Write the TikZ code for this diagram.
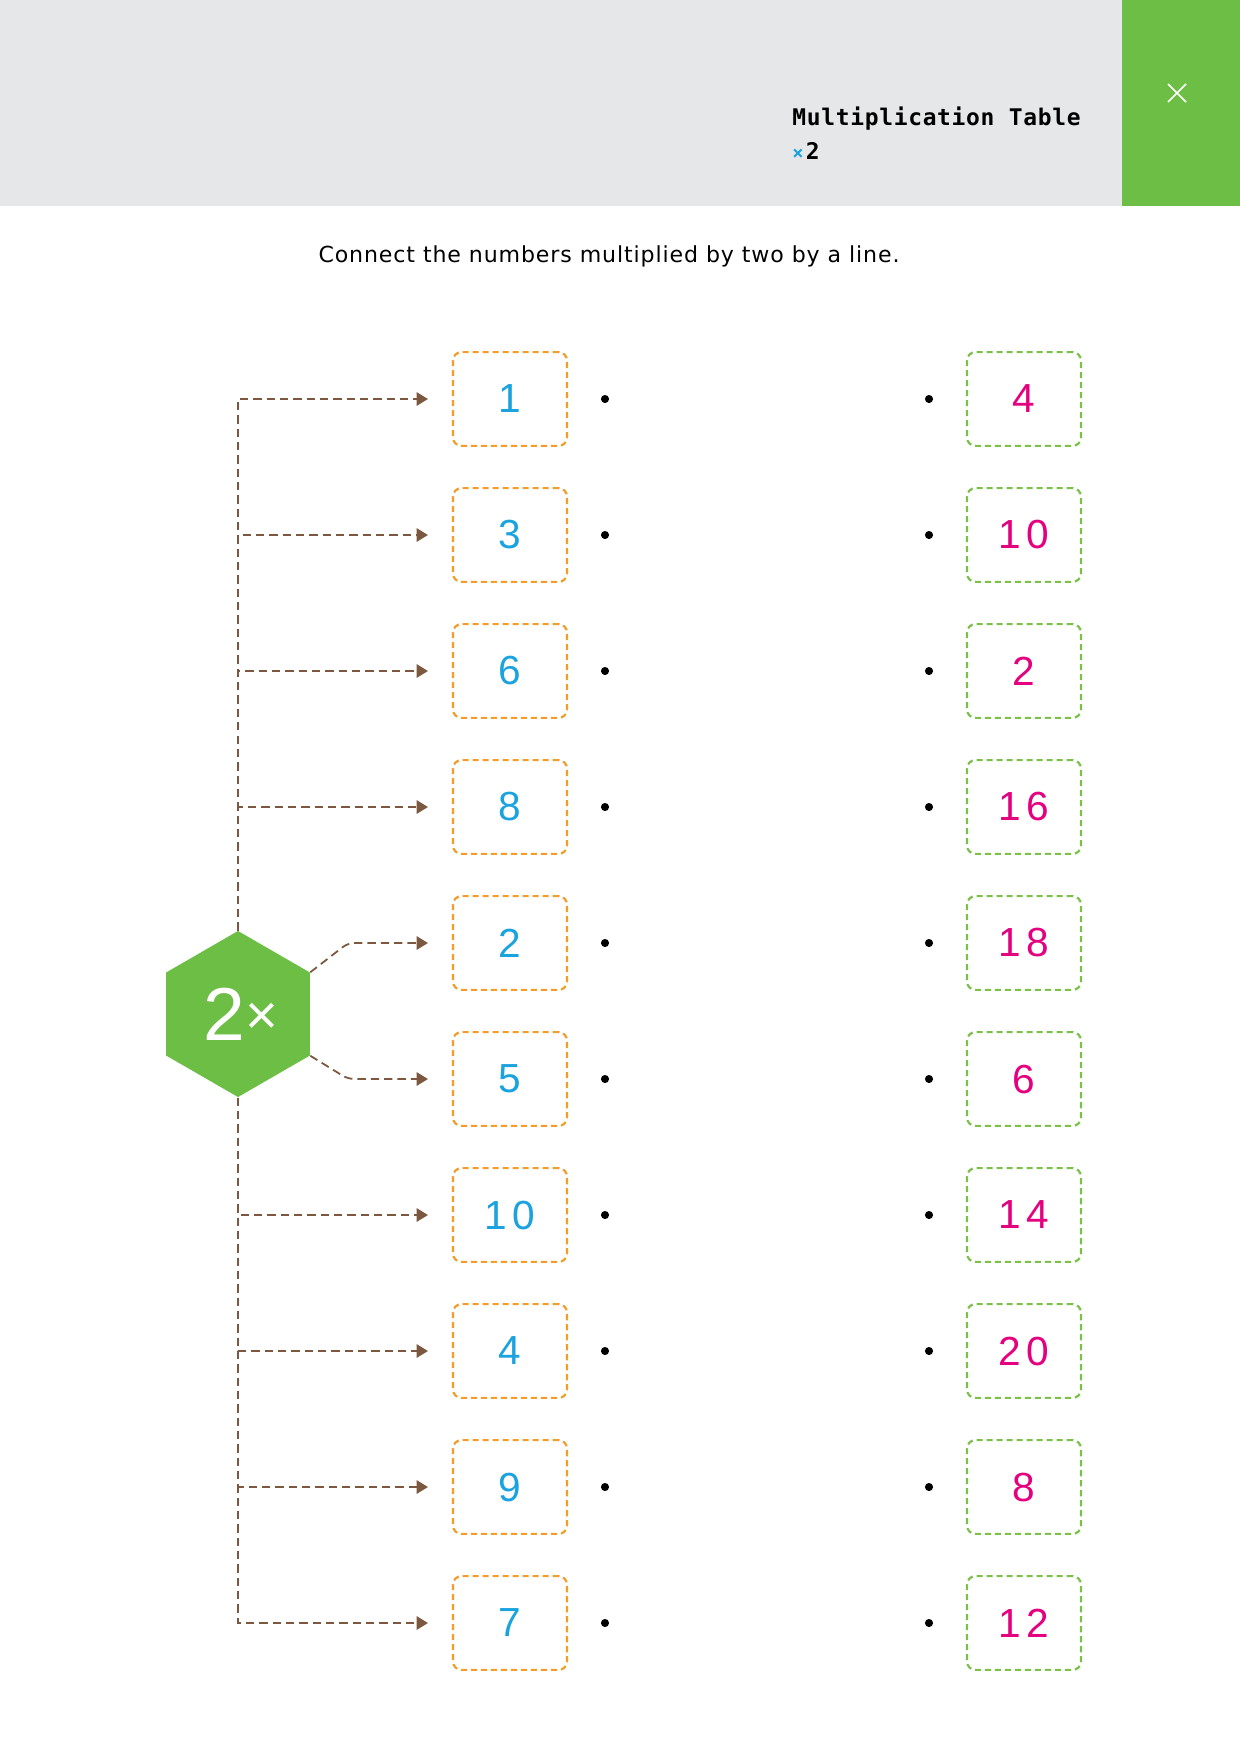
\documentclass[tikz,border=0pt]{standalone}
\usepackage{fontspec}
\setmainfont{Liberation Sans}
\newfontfamily\hdrfont[LetterSpace=3]{DejaVu Sans Mono}
\newfontfamily\subfont[LetterSpace=4]{DejaVu Sans}
\newfontfamily\numfont[LetterSpace=12]{Liberation Sans}
\usetikzlibrary{arrows.meta,shapes.geometric}
\definecolor{hdrgray}{HTML}{E6E7E8}
\definecolor{mygreen}{HTML}{6DBE45}
\definecolor{boxorange}{HTML}{F39C27}
\definecolor{boxgreen}{HTML}{7CC04A}
\definecolor{numblue}{HTML}{1BA3DF}
\definecolor{nummag}{HTML}{E4007F}
\definecolor{connbrown}{HTML}{7D5841}
\begin{document}
\begin{tikzpicture}[x=0.48pt,y=-0.48pt,
  lbox/.style={draw=boxorange, line width=1.05pt, dash pattern=on 2.9pt off 1.9pt,
    rounded corners=4pt, minimum width=54.7pt, minimum height=45pt, inner sep=0pt,
    font=\numfont\fontsize{19.5}{19.5}\selectfont, text=numblue},
  rbox/.style={lbox, draw=boxgreen, text=nummag},
  dotn/.style={circle, fill=black, inner sep=0pt, minimum size=3.9pt},
  conn/.style={draw=connbrown, line width=0.85pt, dash pattern=on 4pt off 2.4pt,
    -{Triangle[length=5.5pt,width=6.5pt]}, shorten >=11.5pt}]
\useasboundingbox[fill=white] (0,0) rectangle (1240,1754);
% header
\fill[hdrgray] (0,0) rectangle (1240,206);
\fill[mygreen] (1122,0) rectangle (1240,206);
\draw[white, line width=0.8pt] (1168,84) -- (1186,102) (1168,102) -- (1186,84);
\node[anchor=base west, inner sep=0pt, font=\hdrfont\bfseries\fontsize{11}{12}\selectfont] (ttl) at (792,125) {Multiplication Table};
\node[anchor=base west, inner sep=0pt, font=\hdrfont\bfseries\fontsize{11}{12}\selectfont] (ttl2) at (792,159) {\textcolor{numblue}{\fontsize{9}{9}\selectfont ×}\kern1pt 2};
% instruction
\node[font=\subfont\fontsize{10.6}{12}\selectfont] (instr) at (609,256) {Connect the numbers multiplied by two by a line.};
% boxes
\foreach \l/\r [count=\i] in {1/4,3/10,6/2,8/16,2/18,5/6,10/14,4/20,9/8,7/12} {
  \node[lbox] (L\i) at (510,{399+136*(\i-1)}) {\l};
  \node[dotn] (LD\i) at (605,{399+136*(\i-1)}) {};
  \node[dotn] (RD\i) at (929,{399+136*(\i-1)}) {};
  \node[rbox] (R\i) at (1024,{399+136*(\i-1)}) {\r};
}
% hexagon
\node[regular polygon, regular polygon sides=6, shape border rotate=30,
  fill=mygreen, inner sep=0pt, minimum size=79.7pt, text=white] (hex) at (238,1014)
  {\hspace{3pt}{\fontsize{36}{36}\selectfont 2}{\fontsize{27}{27}\selectfont\raisebox{2.5pt}{×}}};
% connectors
\foreach \i in {1,...,4} { \draw[conn] (hex.north) |- (L\i.west); }
\foreach \i in {7,...,10} { \draw[conn] (hex.south) |- (L\i.west); }
\coordinate (e5) at (348,943);
\coordinate (e6) at (348,1079);
\draw[conn, rounded corners=3pt] (hex.30) -- (e5) -- (L5.west);
\draw[conn, rounded corners=3pt] (hex.-30) -- (e6) -- (L6.west);
\end{tikzpicture}
\end{document}
